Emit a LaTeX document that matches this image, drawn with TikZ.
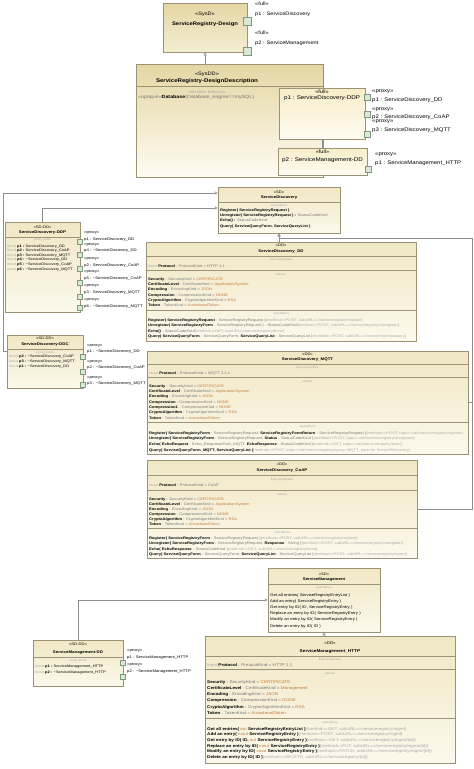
\documentclass[tikz,border=0pt]{standalone}
\usepackage{fontspec}
\setmainfont{Liberation Sans}[FakeStretch=1.15]
\usetikzlibrary{shadows,arrows.meta}

\definecolor{boxline}{HTML}{9C9276}
\definecolor{clstop}{HTML}{F0E7C4}
\definecolor{clsbot}{HTML}{FCF9EC}
\definecolor{systop}{HTML}{E4D6A4}
\definecolor{sysbot}{HTML}{F4EDD2}
\definecolor{parttop}{HTML}{F7EDC8}
\definecolor{partbot}{HTML}{FFFCF2}
\definecolor{portfill}{HTML}{DCE8D6}
\definecolor{portline}{HTML}{7E9A7E}
\definecolor{typegray}{HTML}{777777}
\definecolor{consgray}{HTML}{A8A8A8}
\definecolor{valorange}{HTML}{C27A3A}
\definecolor{linkgray}{HTML}{8E8E8E}

\newcommand{\bname}[1]{\textbf{#1}}
\newcommand{\tname}[1]{\textcolor{typegray}{#1}}
\newcommand{\vname}[1]{\textcolor{valorange}{#1}}
\newcommand{\cname}[1]{\textcolor{consgray}{#1}}
\newcommand{\valrow}[3]{\bname{#1} \tname{: #2 =} \vname{#3}}
\newcommand{\flowrow}[1]{\cname{inout} \bname{Protocol} \tname{: ProtocolKind = #1}}
\newcommand{\portrow}[2]{\cname{inout} \bname{#1 :} #2}

\begin{document}
\begin{tikzpicture}[x=1pt,y=-1pt,
  cls/.style={draw=boxline, line width=0.5pt, top color=clstop, bottom color=clsbot,
    drop shadow={shadow xshift=1.3pt, shadow yshift=-1.3pt, opacity=0.3}, inner sep=0pt},
  sysbox/.style={cls, top color=systop, bottom color=sysbot},
  partbox/.style={cls, top color=parttop, bottom color=partbot},
  ster/.style={inner sep=0pt, font=\fontsize{3.6}{3.6}\selectfont},
  ttl/.style={inner sep=0pt, font=\fontsize{3.8}{3.8}\selectfont\bfseries},
  cmpt/.style={inner sep=0pt, text=consgray, font=\fontsize{3}{3}\selectfont},
  rows/.style 2 args={anchor=north west, align=left, inner sep=0pt, font=\fontsize{#1}{#2}\selectfont},
  divider/.style={draw=boxline, line width=0.4pt},
  port/.style={draw=portline, fill=portfill, line width=0.4pt, minimum size=5, inner sep=0pt},
  link/.style={draw=linkgray, line width=0.5pt},
  real/.style={link, -{Triangle[open, length=3pt, width=3.2pt]}}]
\fill[white] (0,0) rectangle (474,769);
\useasboundingbox (0,0) rectangle (474,769);

% system design
\node[sysbox, minimum width=84, minimum height=49] (sysd) at (205,27.5) {};
\node[ster, font=\fontsize{4.9}{4.9}\selectfont] (sysdS) at (205,14) {«SysD»};
\node[ttl, font=\fontsize{5.1}{5.1}\selectfont\bfseries] (sysdN) at (205,24) {ServiceRegistry-Design};
\node[port, minimum size=8] (sdq1) at (247,21) {};
\node[port, minimum size=8] (sdq2) at (247,51) {};
\node[rows={4.9}{9.5}] (sdl1) at (255,1.8) {«full»\\p1 : ServiceDiscovery};
\node[rows={4.9}{10}] (sdl2) at (255,30.8) {«full»\\p2 : ServiceManagement};

% design description
\node[sysbox, bottom color=partbot, minimum width=187, minimum height=113] (sysdd) at (229.5,120.5) {};
\node[ster, font=\fontsize{4.9}{4.9}\selectfont] (sysddS) at (207,74) {«SysDD»};
\node[ttl, font=\fontsize{5.3}{5.3}\selectfont\bfseries] (sysddN) at (207,81.5) {ServiceRegistry-DesignDescription};
\draw[divider] (sysdd.west |- 0,86) -- (sysdd.east |- 0,86);
\node[cmpt, font=\fontsize{4}{4}\selectfont\itshape] (cbeh) at (207,92) {classifier behavior};
\node[inner sep=0pt, anchor=west, font=\fontsize{4.6}{4.6}\selectfont] (dbase) at (138,97.5)
  {\tname{«opaque»}\bname{Database}\tname{(Database\_engine==mySQL)}};

\node[partbox, minimum width=86, minimum height=51] (pa) at (322,113.5) {};
\node[ster, font=\fontsize{4.9}{4.9}\selectfont] (paS) at (322,92) {«full»};
\node[ster, font=\fontsize{5.4}{5.4}\selectfont] (paN) at (322,97.8) {p1 : ServiceDiscovery-DDP};
\node[port, minimum size=6] (paq1) at (367.5,97.5) {};
\node[port, minimum size=6] (paq2) at (367.5,114.5) {};
\node[port, minimum size=6] (paq3) at (367.5,134.5) {};
\node[rows={5.2}{8.6}] (pal1) at (372,89.6) {«proxy»\\p1 : ServiceDiscovery\_DD};
\node[rows={5.2}{8.3}] (pal2) at (372,107) {«proxy»\\p2 : ServiceDiscovery\_CoAP};
\node[rows={5.2}{8.3}] (pal3) at (372,119.7) {«proxy»\\p3 : ServiceDiscovery\_MQTT};

\node[partbox, minimum width=89, minimum height=27] (pb) at (322.5,161.5) {};
\node[ster, font=\fontsize{4.9}{4.9}\selectfont] (pbS) at (322.5,152) {«full»};
\node[ster, font=\fontsize{5.4}{5.4}\selectfont] (pbN) at (322.5,160) {p2 : ServiceManagement-DD};
\node[port, minimum size=6] (pbq1) at (368,169) {};
\node[rows={5.2}{9.6}] (pbl1) at (375,152) {«proxy»\\p1 : ServiceManagement\_HTTP};

\draw[link] (pa.south) -- (pa.south |- pb.north);
\draw[real] (sysdd.north -| sysdS) -- (sysd.south -| sysdS);

% service discovery interface
\node[cls, minimum width=122, minimum height=46] (sd) at (279,210) {};
\node[ster] (sdS) at (279,192) {«SD»};
\node[ttl] (sdN) at (279,197.5) {ServiceDiscovery};
\draw[divider] (sd.west |- 0,202.5) -- (sd.east |- 0,202.5);
\node[cmpt] (sdops) at (279,205.5) {operations};
\node[rows={3.6}{5.3}] (sdrows) at (220,208.4) {%
  \bname{Register( ServiceRegistryRequest )}\\
  \bname{Unregister( ServiceRegistryRequest ) :} \tname{StatusCodeKind}\\
  \bname{Echo() :} \tname{StatusCodeKind}\\
  \bname{Query( ServiceQueryForm, ServiceQueryList )}};

% DDP block
\node[cls, minimum width=75, minimum height=90] (ddp) at (42.5,267) {};
\node[ster] (ddpS) at (42.5,227) {«SD-DD»};
\node[ttl] (ddpN) at (42.5,233) {ServiceDiscovery-DDP};
\draw[divider] (ddp.west |- 0,237) -- (ddp.east |- 0,237);
\node[cmpt] (ddpcap) at (42.5,240) {proxy ports};
\node[rows={3.5}{4.6}] (ddprows) at (7,244.4) {%
  \portrow{p1}{ServiceDiscovery\_DD}\\
  \portrow{p2}{ServiceDiscovery\_CoAP}\\
  \portrow{p3}{ServiceDiscovery\_MQTT}\\
  \portrow{p4}{\textasciitilde ServiceDiscovery\_DD}\\
  \portrow{p5}{\textasciitilde ServiceDiscovery\_CoAP}\\
  \portrow{p6}{\textasciitilde ServiceDiscovery\_MQTT}};
\node[port] (ddpq1) at (80,241.7) {};
\node[port] (ddpq2) at (80,255) {};
\node[port] (ddpq3) at (80,269) {};
\node[port] (ddpq4) at (80,283) {};
\node[port] (ddpq5) at (80,296.7) {};
\node[port] (ddpq6) at (80,308) {};
\node[rows={3.7}{6.5}] (ddpl1) at (84,231.8) {«proxy»\\p1 : ServiceDiscovery\_DD};
\node[rows={3.7}{6.5}] (ddpl2) at (84,243.3) {«proxy»\\p4 : \textasciitilde ServiceDiscovery\_DD};
\node[rows={3.7}{6.5}] (ddpl3) at (84,257.8) {«proxy»\\p2 : ServiceDiscovery\_CoAP};
\node[rows={3.7}{6.5}] (ddpl4) at (84,270.8) {«proxy»\\p5 : \textasciitilde ServiceDiscovery\_CoAP};
\node[rows={3.7}{6.5}] (ddpl5) at (84,284.8) {«proxy»\\p3 : ServiceDiscovery\_MQTT};
\node[rows={3.7}{6.5}] (ddpl6) at (84,298.8) {«proxy»\\p6 : \textasciitilde ServiceDiscovery\_MQTT};

% DDC block
\node[cls, minimum width=76, minimum height=53] (ddc) at (45,361.5) {};
\node[ster] (ddcS) at (45,338.5) {«SD-DD»};
\node[ttl] (ddcN) at (45,345) {ServiceDiscovery-DDC};
\draw[divider] (ddc.west |- 0,349.5) -- (ddc.east |- 0,349.5);
\node[cmpt] (ddccap) at (45,352.5) {proxy ports};
\node[rows={3.5}{4.8}] (ddcrows) at (9,354.8) {%
  \portrow{p2}{\textasciitilde ServiceDiscovery\_CoAP}\\
  \portrow{p3}{\textasciitilde ServiceDiscovery\_MQTT}\\
  \portrow{p1}{\textasciitilde ServiceDiscovery\_DD}};
\node[port] (ddcq1) at (83,357) {};
\node[port] (ddcq2) at (83,372) {};
\node[port] (ddcq3) at (83,385) {};
\node[rows={3.7}{6.5}] (ddcl1) at (87,344.3) {«proxy»\\p1 : \textasciitilde ServiceDiscovery\_DD};
\node[rows={3.7}{6.5}] (ddcl2) at (87,360.3) {«proxy»\\p2 : \textasciitilde ServiceDiscovery\_CoAP};
\node[rows={3.7}{6.5}] (ddcl3) at (87,376.3) {«proxy»\\p3 : \textasciitilde ServiceDiscovery\_MQTT};

% HTTP discovery
\node[cls, minimum width=270, minimum height=99] (dd) at (281,291.5) {};
\node[ster] (ddS) at (281,245.5) {«DD»};
\node[ttl] (ddN) at (281,252) {ServiceDiscovery\_DD};
\draw[divider] (dd.west |- 0,256.5) -- (dd.east |- 0,256.5);
\node[cmpt] (ddfp) at (281,260) {flow properties};
\node[rows={3.6}{5.3}] (ddflow) at (148,264.4) {\flowrow{HTTP 1.1}};
\draw[divider] (dd.west |- 0,270.5) -- (dd.east |- 0,270.5);
\node[cmpt] (ddval) at (281,274) {values};
\node[rows={3.6}{5.3}] (ddvals) at (148,277.4) {%
  \valrow{Security}{SecurityKind}{CERTIFICATE}\\
  \valrow{CertificateLevel}{CertificateKind}{ApplicationSystem}\\
  \valrow{Encoding}{EncodingKind}{JSON}\\
  \valrow{Compression}{CompressionKind}{NONE}\\
  \valrow{CryptoAlgorithm}{CryptoAlgorithmKind}{RSA}\\
  \valrow{Token}{TokenKind}{ArrowheadToken}};
\draw[divider] (dd.west |- 0,310) -- (dd.east |- 0,310);
\node[cmpt] (ddops) at (281,313.5) {operations};
\node[rows={3.6}{5.5}] (ddrows) at (148,318.4) {%
  \bname{Register( ServiceRegistryRequest} \tname{: ServiceRegistryRequest )}\cname{\{method==POST, subURL==/serviceregistry/register\}}\\
  \bname{Unregister( ServiceRegistryForm} \tname{: ServiceRegistryRequest ) : StatusCodeKind}\cname{\{method==POST, subURL==/serviceregistry/unregister\}}\\
  \bname{Echo()} \tname{: StatusCodeKind}\cname{\{method==GET, subURL==/serviceregistry/echo\}}\\
  \bname{Query( ServiceQueryForm} \tname{: ServiceQueryForm,} \bname{ServiceQueryList} \tname{: ServiceQueryList )}\cname{\{method==POST, subURL==/serviceregistry/query\}}};

% MQTT discovery
\node[cls, minimum width=321, minimum height=103] (mqtt) at (307.5,402.5) {};
\node[ster] (mqttS) at (307.5,354.5) {«DD»};
\node[ttl] (mqttN) at (307.5,360) {ServiceDiscovery\_MQTT};
\draw[divider] (mqtt.west |- 0,364.5) -- (mqtt.east |- 0,364.5);
\node[cmpt] (mqttfp) at (307.5,368) {flow properties};
\node[rows={3.6}{5.3}] (mqttflow) at (149,371.4) {\flowrow{MQTT 3.1.1}};
\draw[divider] (mqtt.west |- 0,377) -- (mqtt.east |- 0,377);
\node[cmpt] (mqttval) at (307.5,381) {values};
\node[rows={3.6}{5.3}] (mqttvals) at (149,384.4) {%
  \valrow{Security}{SecurityKind}{CERTIFICATE}\\
  \valrow{CertificateLevel}{CertificateKind}{ApplicationSystem}\\
  \valrow{Encoding}{EncodingKind}{JSON}\\
  \valrow{Compression}{CompressionKind}{NONE}\\
  \valrow{Compression1}{CompressionKind}{NONE}\\
  \valrow{CryptoAlgorithm}{CryptoAlgorithmKind}{RSA}\\
  \valrow{Token}{TokenKind}{ArrowheadToken}};
\draw[divider] (mqtt.west |- 0,422.5) -- (mqtt.east |- 0,422.5);
\node[cmpt] (mqttops) at (307.5,427) {operations};
\node[rows={3.6}{5.6}] (mqttrows) at (149,431.4) {%
  \bname{Register( ServiceRegistryForm} \tname{: ServiceRegistryRequest,} \bname{ServiceRegistryFormReturn} \tname{: ServiceRegistryRequest )}\cname{\{method==POST, topic==/ah/serviceregistry/register\}}\\
  \bname{Unregister( ServiceRegistryForm} \tname{: ServiceRegistryRequest,} \bname{Status} \tname{: StatusCodeKind )}\cname{\{method==POST, topic==/ah/serviceregistry/unregister\}}\\
  \bname{Echo( EchoRequest} \tname{: Echo\_ResponsePath\_MQTT,} \bname{EchoResponse} \tname{: StatusCodeKind )}\cname{\{method==GET, topic==/ah/serviceregistry/echo\}}\\
  \bname{Query( ServiceQueryForm\_MQTT, ServiceQueryList )}\cname{\{method==POST, topic==/ah/serviceregistry/query, MQTT\_topic for ServiceDiscovery\}}};

% CoAP discovery
\node[cls, minimum width=270, minimum height=98] (coap) at (282,509) {};
\node[ster] (coapS) at (282,464.5) {«DD»};
\node[ttl] (coapN) at (282,471) {ServiceDiscovery\_CoAP};
\draw[divider] (coap.west |- 0,475.5) -- (coap.east |- 0,475.5);
\node[cmpt] (coapfp) at (282,479.5) {flow properties};
\node[rows={3.6}{5.3}] (coapflow) at (149,483.4) {\flowrow{CoAP}};
\draw[divider] (coap.west |- 0,490) -- (coap.east |- 0,490);
\node[cmpt] (coapval) at (282,494) {values};
\node[rows={3.6}{5.1}] (coapvals) at (149,497.4) {%
  \valrow{Security}{SecurityKind}{CERTIFICATE}\\
  \valrow{CertificateLevel}{CertificateKind}{ApplicationSystem}\\
  \valrow{Encoding}{EncodingKind}{JSON}\\
  \valrow{Compression}{CompressionKind}{NONE}\\
  \valrow{CryptoAlgorithm}{CryptoAlgorithmKind}{RSA}\\
  \valrow{Token}{TokenKind}{ArrowheadToken}};
\draw[divider] (coap.west |- 0,528.5) -- (coap.east |- 0,528.5);
\node[cmpt] (coapops) at (282,532.5) {operations};
\node[rows={3.6}{5.5}] (coaprows) at (149,536.4) {%
  \bname{Register( ServiceRegistryForm} \tname{: ServiceRegistryRequest )}\cname{\{method==POST, subURL==/serviceregistry/register\}}\\
  \bname{Unregister( ServiceRegistryForm} \tname{: ServiceRegistryRequest,} \bname{Response} \tname{: String )}\cname{\{method==POST, subURL==/serviceregistry/unregister\}}\\
  \bname{Echo( EchoResponse} \tname{: StatusCodeKind )}\cname{\{method==GET, subURL==/serviceregistry/echo\}}\\
  \bname{Query( ServiceQueryForm} \tname{: ServiceQueryForm,} \bname{ServiceQueryList} \tname{: ServiceQueryList )}\cname{\{method==POST, subURL==/serviceregistry/query\}}};

% management interface
\node[cls, minimum width=112, minimum height=64] (sm) at (324,600) {};
\node[ster] (smS) at (324,574) {«SD»};
\node[ttl] (smN) at (324,580) {ServiceManagement};
\draw[divider] (sm.west |- 0,584.5) -- (sm.east |- 0,584.5);
\node[cmpt] (smops) at (324,588) {operations};
\node[rows={3.8}{6.2}] (smrows) at (270,593.2) {%
  Get all entries( ServiceRegistryEntryList )\\
  Add an entry( ServiceRegistryEntry )\\
  Get entry by ID( ID, ServiceRegistryEntry )\\
  Replace an entry by ID( ServiceRegistryEntry )\\
  Modify an entry by ID( ServiceRegistryEntry )\\
  Delete an entry by ID( ID )};

% management DD block
\node[cls, minimum width=90, minimum height=46] (smdd) at (78,663) {};
\node[ster] (smddS) at (78,644) {«SD-DD»};
\node[ttl] (smddN) at (78,652.5) {ServiceManagement-DD};
\draw[divider] (smdd.west |- 0,657.5) -- (smdd.east |- 0,657.5);
\node[cmpt] (smddcap) at (78,661) {proxy ports};
\node[rows={3.5}{5.5}] (smddrows) at (35,665.2) {%
  \portrow{p1}{ServiceManagement\_HTTP}\\
  \portrow{p2}{\textasciitilde ServiceManagement\_HTTP}};
\node[port] (smddq1) at (123,663) {};
\node[port] (smddq2) at (123,677) {};
\node[rows={3.7}{7}] (smddl1) at (127,649.3) {«proxy»\\p1 : ServiceManagement\_HTTP};
\node[rows={3.7}{7}] (smddl2) at (127,663.3) {«proxy»\\p2 : \textasciitilde ServiceManagement\_HTTP};

% management over HTTP
\node[cls, minimum width=250, minimum height=127] (http) at (330,699.5) {};
\node[ster, font=\fontsize{3.9}{3.9}\selectfont] (httpS) at (330,643) {«DD»};
\node[ttl, font=\fontsize{4.1}{4.1}\selectfont\bfseries] (httpN) at (330,651.5) {ServiceManagement\_HTTP};
\draw[divider] (http.west |- 0,656.5) -- (http.east |- 0,656.5);
\node[cmpt] (httpfp) at (330,660) {flow properties};
\node[rows={4}{6}] (httpflow) at (207,663.2) {\flowrow{HTTP 1.1}};
\draw[divider] (http.west |- 0,669.5) -- (http.east |- 0,669.5);
\node[cmpt] (httpval) at (330,673.5) {values};
\node[rows={4}{6.2}] (httpvals) at (207,680.2) {%
  \valrow{Security}{SecurityKind}{CERTIFICATE}\\
  \valrow{CertificateLevel}{CertificateKind}{Management}\\
  \valrow{Encoding}{EncodingKind}{JSON}\\
  \valrow{Compression}{CompressionKind}{NONE}\\
  \valrow{CryptoAlgorithm}{CryptoAlgorithmKind}{RSA}\\
  \valrow{Token}{TokenKind}{ArrowheadToken}};
\draw[divider] (http.west |- 0,718.5) -- (http.east |- 0,718.5);
\node[cmpt] (httpops) at (330,722.5) {operations};
\node[rows={4}{5.6}] (httprows) at (207,727.2) {%
  \bname{Get all entries(} \vname{out} \bname{ServiceRegistryEntryList )}\cname{\{method==GET, subURL==/serviceregistry/mgmt\}}\\
  \bname{Add an entry(} \vname{inout} \bname{ServiceRegistryEntry )}\cname{\{method==POST, subURL==/serviceregistry/mgmt\}}\\
  \bname{Get entry by ID( ID,} \vname{out} \bname{ServiceRegistryEntry )}\cname{\{method==GET, subURL==/serviceregistry/mgmt/\{id\}\}}\\
  \bname{Replace an entry by ID(} \vname{inout} \bname{ServiceRegistryEntry )}\cname{\{method==PUT, subURL==/serviceregistry/mgmt/\{id\}\}}\\
  \bname{Modify an entry by ID(} \vname{inout} \bname{ServiceRegistryEntry )}\cname{\{method==PATCH, subURL==/serviceregistry/mgmt/\{id\}\}}\\
  \bname{Delete an entry by ID( ID )}\cname{\{method==DELETE, subURL==/serviceregistry/\{id\}\}}};

% realizations
\coordinate (bendA) at (3,351);
\coordinate (bendB) at (3,193);
\coordinate (bendC) at (42.5,208);
\coordinate (trk) at (472,238);
\draw[real] (ddc.west |- bendA) -- (bendA) -- (bendB) -- (sd.west |- bendB);
\draw[real] (ddp.north) -- (bendC) -- (sd.west |- bendC);
\draw[real] (sd.south |- dd.north) -- (sd.south);
\draw[link] (mqtt.east) -| (trk);
\draw[link] (coap.east) -| (trk);
\draw[real] (trk) -| (sd.south);
\draw[real] (smdd.north) |- (sm.west);
\draw[real] (sm.south |- http.north) -- (sm.south);
\end{tikzpicture}
\end{document}
